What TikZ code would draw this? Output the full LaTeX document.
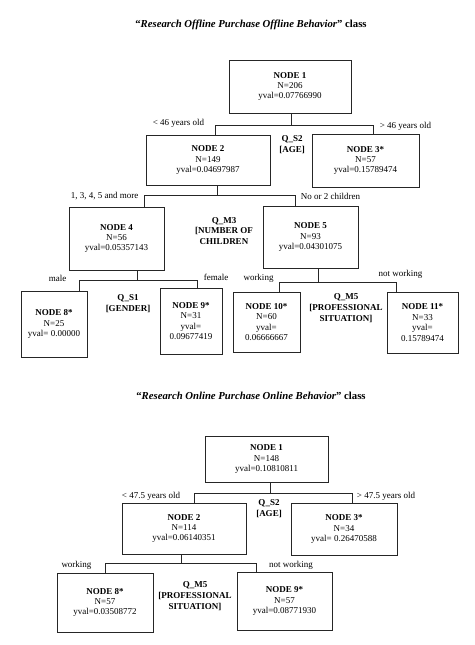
\documentclass[tikz,border=0pt]{standalone}
\usepackage{fontspec}
\setmainfont{Liberation Serif}
\begin{document}
\begin{tikzpicture}[x=1pt,y=-1pt,
  box/.style={draw=black!85,line width=0.8pt,align=center,inner sep=0pt,font=\fontsize{9}{10.4}\selectfont},
  lbl/.style={inner sep=0pt,font=\fontsize{9}{10.4}\selectfont},
  split/.style={inner sep=0pt,align=center,font=\bfseries\fontsize{9}{10.8}\selectfont},
  ttl/.style={inner sep=0pt,font=\bfseries\fontsize{10.7}{12}\selectfont}]
  \useasboundingbox (0,0) rectangle (474,645);
  % first tree
  \node[ttl] (t1) at (251,25) {“\textit{Research Offline Purchase Offline Behavior}” class};
  \node[box,minimum width=122,minimum height=53] (n1) at (290,86.5) {\textbf{NODE 1}\\N=206\\yval=0.07766990};
  \node[box,minimum width=124,minimum height=50] (n2) at (208,160) {\textbf{NODE 2}\\N=149\\yval=0.04697987};
  \node[box,minimum width=107,minimum height=53] (n3) at (365.5,160.5) {\textbf{NODE 3*}\\N=57\\yval=0.15789474};
  \node[box,minimum width=95,minimum height=63] (n4) at (116.5,238.5) {\textbf{NODE 4}\\N=56\\yval=0.05357143};
  \node[box,minimum width=95,minimum height=62] (n5) at (310.5,237) {\textbf{NODE 5}\\N=93\\yval=0.04301075};
  \node[box,minimum width=66,minimum height=66] (n8) at (54,324) {\textbf{NODE 8*}\\N=25\\yval= 0.00000};
  \node[box,minimum width=62,minimum height=66] (n9) at (191,321) {\textbf{NODE 9*}\\N=31\\yval=\\0.09677419};
  \node[box,minimum width=67,minimum height=60] (n10) at (266.5,322) {\textbf{NODE 10*}\\N=60\\yval=\\0.06666667};
  \node[box,minimum width=71,minimum height=61] (n11) at (422.5,322.5) {\textbf{NODE 11*}\\N=33\\yval=\\0.15789474};
  % second tree
  \node[ttl] (t2) at (251,396) {“\textit{Research Online Purchase Online Behavior}” class};
  \node[box,minimum width=123,minimum height=46] (m1) at (266.5,459) {\textbf{NODE 1}\\N=148\\yval=0.10810811};
  \node[box,minimum width=124,minimum height=51] (m2) at (184,528.5) {\textbf{NODE 2}\\N=114\\yval=0.06140351};
  \node[box,minimum width=106,minimum height=52] (m3) at (344,529) {\textbf{NODE 3*}\\N=34\\yval= 0.26470588};
  \node[box,minimum width=96,minimum height=59] (m8) at (105,602.5) {\textbf{NODE 8*}\\N=57\\yval=0.03508772};
  \node[box,minimum width=95,minimum height=58] (m9) at (284.5,601) {\textbf{NODE 9*}\\N=57\\yval=0.08771930};
  % forks: parent/left/right/stem x/bar y/left x/right x
  \foreach \p/\l/\r/\x/\y/\a/\b in {n1/n2/n3/291/125/215/373, n2/n4/n5/217/195/144/295,
    n4/n8/n9/137/280/79/197, n5/n10/n11/318/282/279/396,
    m1/m2/m3/270/493/194/352, m2/m8/m9/181/563/105/256}
  {\draw[black!85,line width=0.8pt] (\p.south -| \x,0) -- (\x,\y);
   \draw[black!85,line width=0.8pt] (\l.north -| \a,0) |- (\b,\y) -- (\r.north -| \b,0);}
  % split questions
  \node[split] (q1) at (292,145) {Q\_S2\\{[}AGE{]}};
  \node[split] (q2) at (224,231) {Q\_M3\\{[}NUMBER OF\\CHILDREN};
  \node[split] (q3) at (128,303.5) {Q\_S1\\{[}GENDER{]}};
  \node[split] (q4) at (346,308) {Q\_M5\\{[}PROFESSIONAL\\SITUATION{]}};
  \node[split] (q5) at (269,508.5) {Q\_S2\\{[}AGE{]}};
  \node[split] (q6) at (195,596) {Q\_M5\\{[}PROFESSIONAL\\SITUATION{]}};
  % branch labels
  \node[lbl] (c1) at (178.5,123) {< 46 years old};
  \node[lbl] (c2) at (405.5,126) {> 46 years old};
  \node[lbl] (c3) at (104.5,196) {1, 3, 4, 5 and more};
  \node[lbl] (c4) at (330.5,196) {No or 2 children};
  \node[lbl] (c5) at (57.5,278) {male};
  \node[lbl] (c6) at (216,277) {female};
  \node[lbl] (c7) at (258.5,278) {working};
  \node[lbl] (c8) at (400.5,274) {not working};
  \node[lbl] (c9) at (151,496) {< 47.5 years old};
  \node[lbl] (c10) at (386,496) {> 47.5 years old};
  \node[lbl] (c11) at (76.5,565) {working};
  \node[lbl] (c12) at (291,565) {not working};
\end{tikzpicture}
\end{document}
